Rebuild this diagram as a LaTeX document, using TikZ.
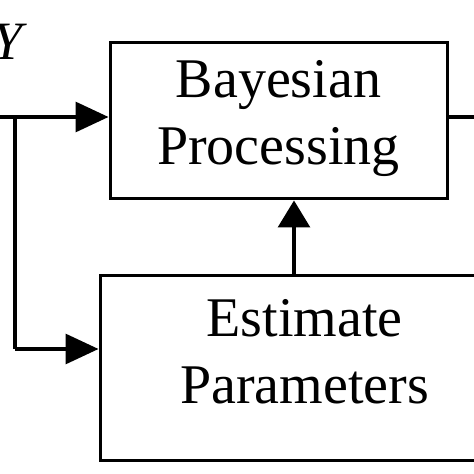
\documentclass[tikz,border=0pt]{standalone}
\usepackage{fontspec}
\setmainfont{Liberation Serif}
\usetikzlibrary{arrows.meta,calc}
\begin{document}
\begin{tikzpicture}[x=1pt,y=1pt,
  blockbox/.style={draw=black,line width=3pt,rectangle,inner sep=0pt},
  lbl/.style={align=center,font=\fontsize{56}{67}\selectfont,inner sep=0pt},
  conn/.style={line width=3.2pt},
  arr/.style={conn,-{Triangle[length=33pt,width=30pt]}},
  varr/.style={conn,-{Triangle[length=27pt,width=32pt]}}]
\useasboundingbox (0,0) rectangle (474,474);
\node[blockbox,minimum width=337pt,minimum height=156pt] (bp) at (278.5,353) {};
\node[lbl] (bpt) at ($(bp.center)+(0,2)$) {Bayesian\\Processing};
\node[blockbox,minimum width=409pt,minimum height=185pt] (est) at (304.5,105.5) {};
\node[lbl] (estt) at ($(est.center)+(0,17)$) {Estimate\\Parameters};
\node[font=\fontsize{54}{60}\selectfont\itshape,anchor=base,inner sep=0pt] (ylab) at (8,414) {Y};
\coordinate (in) at (-4,357);
\coordinate (br) at (15,357);
\coordinate (bb) at (15,125);
\coordinate (out) at (478,357);
\draw[arr] (in) -- (bp.west |- in);
\draw[conn] (br) -- (bb);
\draw[arr] (bb) -- (est.west |- bb);
\draw[varr] (est.north -| 294,0) -- (bp.south -| 294,0);
\draw[conn] (bp.east |- out) -- (out);
\end{tikzpicture}
\end{document}
